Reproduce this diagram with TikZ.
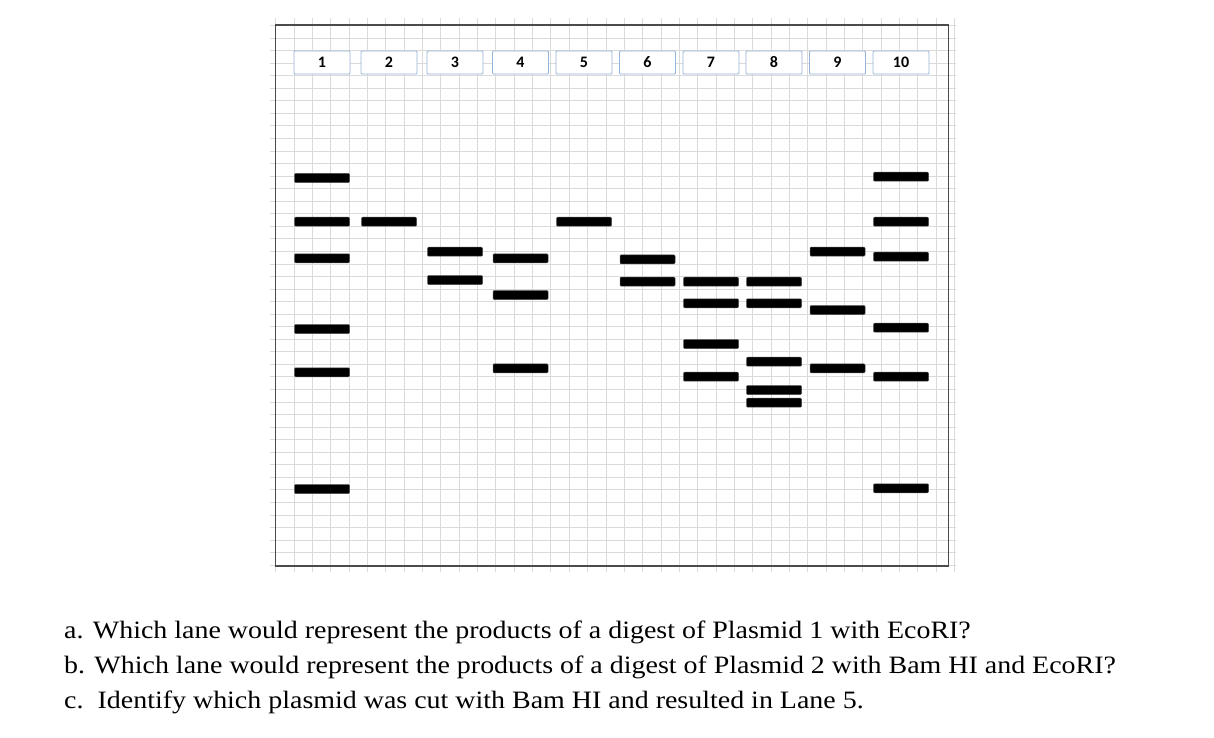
\documentclass[tikz,border=0pt]{standalone}
\usepackage{fontspec}
\setmainfont{Liberation Serif}
\newfontfamily\wellfont[Numbers=Lining]{Carlito}
\definecolor{wellblue}{RGB}{150,180,215}
\definecolor{gridgray}{RGB}{218,218,218}
\definecolor{framegray}{RGB}{75,75,75}
\tikzset{well/.style={draw=wellblue, fill=white, line width=0.9pt, rounded corners=1pt,
    minimum width=56pt, minimum height=23pt, inner sep=0pt, text height=10.3pt, text depth=0pt,
    font=\wellfont\bfseries\fontsize{16}{16}\selectfont}}
\tikzset{band/.style={fill=black, draw=black!70, line width=0.5pt, rounded corners=1pt,
    minimum width=55pt, minimum height=9pt, inner sep=0pt}}
\tikzset{gridline/.style={draw=gridgray, line width=0.9pt}}
\tikzset{q/.style={anchor=base west, inner sep=0pt, xscale=1.118,
    font=\fontsize{25}{25}\selectfont}}

\begin{document}
\begin{tikzpicture}[x=1pt, y=-1pt]
  \useasboundingbox (0,0) rectangle (1214,738);
  % gel grid
  \foreach \k in {0,...,37}
    \draw[gridline] (275.65+18.35*\k,18) -- (275.65+18.35*\k,572);
  \foreach \k in {0,...,43}
    \draw[gridline] (270,25.5+12.55*\k) -- (956,25.5+12.55*\k);
  \draw[framegray, line width=1.4pt] (275.7,25) rectangle (948.3,566);
  % wells
  \foreach \n/\x in {1/322,2/389,3/455,4/520.5,5/584,6/647.5,7/711,8/774,9/837.5,10/901}
    \node[well] (w\n) at (\x,62.5) {\n};
  % bands
  \foreach \n/\ys in {1/{178,221.7,258.3,329,372.3,489},
                      2/{221.7},
                      3/{251.7,280},
                      4/{258.3,295,368.3},
                      5/{221.7},
                      6/{259.3,281.7},
                      7/{281.7,303.3,344,376.7},
                      8/{281.7,303.3,361.7,390,402.7},
                      9/{251.7,310,368.3},
                      10/{176.7,221.7,256.7,327.7,376.7,488.3}}
    \foreach \y [count=\i] in \ys
      \node[band] (b\n-\i) at (w\n |- 0,\y) {};
  % questions
  \node[q] (qa) at (64,638) {a. Which lane would represent the products of a digest of Plasmid 1 with EcoRI?};
  \node[q] (qb) at (64,673) {b. Which lane would represent the products of a digest of Plasmid 2 with Bam HI and EcoRI?};
  \node[q] (qc) at (64,708) {c.\ \ Identify which plasmid was cut with Bam HI and resulted in Lane 5.};
\end{tikzpicture}
\end{document}
